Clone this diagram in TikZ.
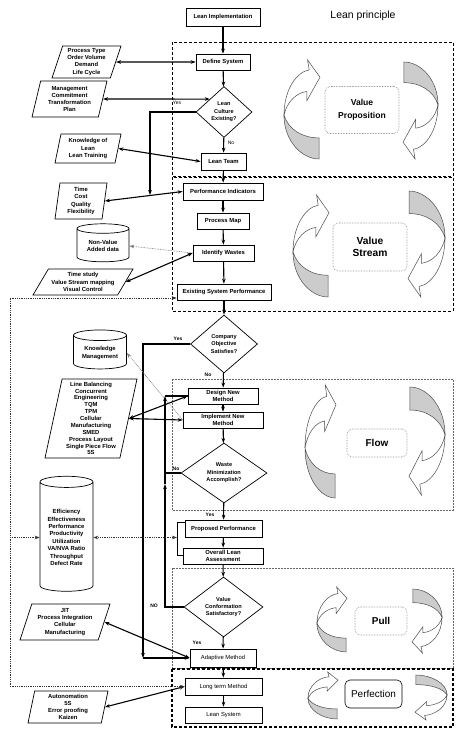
\documentclass[tikz,border=0pt]{standalone}
\usepackage{fontspec}
\setmainfont{Liberation Sans}
\usetikzlibrary{shapes.geometric, arrows.meta}
\tikzset{>={Stealth[length=5bp,width=3.6bp]}}
\newcommand{\boxfont}{\fontsize{5.9}{7.2}\selectfont\bfseries}
\tikzset{
    stepbox/.style={draw, fill=white, line width=0.7bp, inner sep=1bp, align=center, font=\boxfont},
    plainbox/.style={stepbox, font=\fontsize{5.9}{7.2}\selectfont},
    decision/.style={diamond, draw, fill=white, line width=0.7bp, inner sep=0pt, align=center, font=\fontsize{5.6}{7.4}\selectfont\bfseries},
    inputbox/.style 2 args={trapezium, trapezium left angle=#1, trapezium right angle=#2, trapezium stretches body, draw, fill=white, line width=0.7bp, inner sep=0.5bp, align=center, font=\boxfont},
    dbase/.style={cylinder, shape border rotate=90, aspect=0.28, draw, fill=white, line width=0.7bp, inner sep=1bp, align=center, font=\boxfont},
    tag/.style={draw=gray, densely dotted, line width=0.6bp, rounded corners=5bp, align=center, font=\fontsize{10}{12}\selectfont\bfseries},
    lbl/.style={font=\fontsize{5}{6}\selectfont\bfseries, inner sep=0pt},
    link/.style={line width=1.1bp},
    greydot/.style={gray, line width=0.6bp, dash pattern=on 0.8bp off 0.8bp},
    dotline/.style={black!80, line width=0.7bp, dash pattern=on 0.8bp off 1bp},
    zone/.style={line width=0.8bp, dash pattern=on 3bp off 2bp},
    zonegrey/.style={gray!80!black, line width=0.7bp, dash pattern=on 1.6bp off 1.4bp},
    zonethick/.style={line width=1.3bp, dash pattern=on 3bp off 2bp},
    swirlline/.style={black!70, line width=0.5bp},
    swirl/.pic={
        \draw[swirlline, fill=white] (0.70,0.10) -- (0.655,0) -- (1,0.174) -- (0.636,0.41) -- (0.636,0.318)
            .. controls (0.35,0.33) and (0.08,0.42) .. (0,0.557)
            .. controls (0,0.30) and (0.35,0.12) .. (0.70,0.10) -- cycle;
        \draw[swirlline, fill=gray!40] (0,0.557) .. controls (0,0.82) and (0.5,1) .. (0.973,1)
            -- (0.973,0.787) .. controls (0.5,0.787) and (0.12,0.70) .. (0,0.557) -- cycle;
    }
}

\begin{document}
\begin{tikzpicture}[x=1bp, y=-1bp]
    \useasboundingbox (0,0) rectangle (474,733);

    % lean principle zones
    \draw[zone] (172,42) rectangle (453,176);
    \draw[zone] (172,177) rectangle (453,311);
    \draw[zonegrey] (172,379) rectangle (453,510);
    \draw[zonegrey] (172,568) rectangle (453,668);
    \draw[zonethick] (172,669) rectangle (453,727);

    % cycle arrows
    \pic[xscale=36, yscale=99] at (284,60) {swirl};
    \pic[xscale=-35, yscale=-97] at (438,159) {swirl};
    \pic[xscale=36, yscale=102] at (293,195) {swirl};
    \pic[xscale=-37, yscale=-106] at (445,297) {swirl};
    \pic[xscale=31, yscale=113] at (305,385) {swirl};
    \pic[xscale=-36, yscale=-108] at (445,495) {swirl};
    \pic[xscale=30, yscale=65] at (317,587) {swirl};
    \pic[xscale=-30, yscale=-64] at (442,653) {swirl};
    \pic[xscale=30, yscale=47] at (308,672) {swirl};
    \pic[xscale=-32, yscale=-45] at (447,720) {swirl};

    \node[tag, minimum width=74bp, minimum height=47bp, font=\fontsize{8.6}{12.5}\selectfont\bfseries] (vprop) at (362,110) {Value\\Proposition};
    \node[tag, minimum width=74bp, minimum height=48bp, font=\fontsize{10.3}{12.3}\selectfont\bfseries] (vstream) at (370,247) {Value\\Stream};
    \node[tag, minimum width=60bp, minimum height=28bp] (flow) at (377,443) {Flow};
    \node[tag, minimum width=52bp, minimum height=28bp] (pull) at (381,621) {Pull};
    \node[tag, draw=black, solid, minimum width=57bp, minimum height=28bp, font=\fontsize{10}{12}\selectfont] (perf) at (373.5,694) {Perfection};

    \node[font=\fontsize{10.5}{12}\selectfont] (lprin) at (363,16) {Lean principle};

    % main flow
    \node[stepbox, minimum width=74bp, minimum height=18bp] (limp) at (223,17) {Lean Implementation};
    \node[stepbox, minimum width=54bp, minimum height=16bp] (def) at (223,62) {Define System};
    \node[decision, minimum width=56bp, minimum height=51bp] (cult) at (224,112) {Lean\\Culture\\Existing?};
    \node[stepbox, minimum width=45bp, minimum height=17bp] (team) at (223.5,161.5) {Lean Team};
    \node[stepbox, minimum width=80bp, minimum height=17bp] (pind) at (223,191.5) {Performance Indicators};
    \node[stepbox, minimum width=52bp, minimum height=16bp] (pmap) at (223,221) {Process Map};
    \node[stepbox, minimum width=61bp, minimum height=16bp] (iwas) at (223.5,253) {Identify Wastes};
    \node[stepbox, minimum width=94bp, minimum height=16bp] (esp) at (224,292) {Existing System Performance};
    \node[decision, minimum width=67bp, minimum height=58bp] (cobj) at (224,344) {Company\\Objective\\Satisfies?};
    \node[stepbox, minimum width=70bp, minimum height=16bp] (dnm) at (223,396) {Design New\\Method};
    \node[stepbox, minimum width=80bp, minimum height=16bp] (inm) at (223,420) {Implement New\\Method};
    \node[decision, minimum width=86bp, minimum height=60bp] (wmin) at (224,473) {Waste\\Minimization\\Accomplish?};
    \node[stepbox, minimum width=77bp, minimum height=17bp] (ppf) at (223.5,528.5) {Proposed Performance};
    \node[stepbox, minimum width=80bp, minimum height=16bp] (ola) at (223,556) {Overall Lean\\Assessment};
    \node[decision, minimum width=79bp, minimum height=60bp] (vcon) at (223.5,607) {Value\\Conformation\\Satisfactory?};
    \node[plainbox, minimum width=66bp, minimum height=18bp] (adm) at (223,658) {Adaptive Method};
    \node[plainbox, minimum width=77bp, minimum height=17bp] (ltm) at (223.5,686.5) {Long term Method};
    \node[plainbox, minimum width=77bp, minimum height=16bp] (lsys) at (223.5,715) {Lean System};

    % inputs
    \node[inputbox={69}{111}, minimum width=69bp, minimum height=32bp] (ptype) at (86.5,62) {Process Type\\Order Volume\\Demand\\Life Cycle};
    \node[inputbox={72}{108}, minimum width=75bp, minimum height=36bp] (mgmt) at (69.5,99) {Management\\Commitment\\Transformation\\Plan};
    \node[inputbox={74}{106}, minimum width=66bp, minimum height=29bp] (know) at (88,148.5) {Knowledge of\\Lean\\Lean Training};
    \node[inputbox={80}{100}, minimum width=52bp, minimum height=36bp] (tcqf) at (81,201) {Time\\Cost\\Quality\\Flexibility};
    \node[inputbox={52}{128}, minimum width=100bp, minimum height=26bp] (tsvs) at (83,282) {Time study\\Value Stream mapping\\Visual Control};
    \node[inputbox={77}{103}, minimum width=92bp, minimum height=79bp, font=\fontsize{5.9}{6.9}\selectfont\bfseries] (tools) at (91,418.5) {Line Balancing\\Concurrent\\Engineering\\TQM\\TPM\\Cellular\\Manufacturing\\SMED\\Process Layout\\Single Piece Flow\\5S};
    \node[inputbox={67}{113}, minimum width=90bp, minimum height=36bp] (jit) at (65,622) {JIT\\Process Integration\\Cellular\\Manufacturing};
    \node[inputbox={76}{104}, minimum width=80bp, minimum height=32bp] (auto) at (68,707) {Autonomation\\5S\\Error proofing\\Kaizen};

    \node[dbase, minimum width=52bp, minimum height=38bp] (nva) at (103,246) {Non-Value\\Added data};
    \node[dbase, minimum width=53bp, minimum height=39bp] (km) at (100,353) {Knowledge\\Management};
    \node[dbase, minimum width=53bp, minimum height=115bp, font=\fontsize{5.9}{7.4}\selectfont\bfseries] (eff) at (66.5,537.5) {Efficiency\\Effectiveness\\Performance\\Productivity\\Utilization\\VA/NVA Ratio\\Throughput\\Defect Rate};

    % helper points
    \coordinate (yesend) at (150,195);
    \coordinate (yescorner) at (143,658);
    \coordinate (nojoin) at (165,473);
    \coordinate (nomid) at (165,484);
    \coordinate (notop) at (165,396);
    \coordinate (brtop) at (177,522);
    \coordinate (brbot) at (177,555);
    \coordinate (brk) at (177,539);
    \coordinate (loopt) at (10,298);

    % connectors
    \draw[link,->] (limp) -- (def);
    \draw[link,<->] (ptype.east) -- (def.west);
    \draw[link,->] (def) -- (cult);
    \draw[link,<->] (mgmt.east) -- (cult.north west);
    \draw[link,->] (cult.west) -| (yesend);
    \draw[link,->] (cult) -- (team);
    \draw[link,<->] (know.east) -- (team.west);
    \draw[link,->] (team) -- (pind);
    \draw[link,<->] (tcqf.east) -- (pind.west);
    \draw[link,->] (pind) -- (pmap);
    \draw[link,->] (pmap) -- (iwas);
    \draw[link,->] (iwas) -- (esp);
    \draw[greydot,->] (iwas.west) -- (nva.east);
    \draw[link,<->] (tsvs.east) -- (iwas.west);
    \draw[link,->] (esp) -- (cobj);
    \draw[link,->] (cobj.west) -| (yescorner);
    \draw[link,->] (yescorner) -- (adm.west);
    \draw[link,->] (cobj) -- (dnm);
    \draw[link,->] (dnm) -- (inm);
    \draw[link,->] (inm) -- (wmin);
    \draw[link,<->] (tools.east) -- (dnm.west);
    \draw[link,<->] (tools.east) -- (inm.west);
    \draw[greydot,->] (inm.west) -- (km.east);
    \draw[link] (wmin.west) -- (nojoin);
    \draw[link,->] (wmin) -- (ppf);
    \draw[link,->] (ppf) -- (ola);
    \draw[link,->] (ola) -- (vcon);
    \draw[link,->] (vcon.west) -| (nomid);
    \draw[link,->] (nomid) -- (notop);
    \draw[link] (notop) -- (dnm.west);
    \draw[link,->] (vcon) -- (adm);
    \draw[link,<->] (jit.east) -- (adm.west);
    \draw[link,->] (adm) -- (ltm);
    \draw[link,->] (ltm) -- (lsys);
    \draw[link,<->] (auto.east) -- (ltm.west);
    \draw[line width=0.7bp] (ppf.west |- brtop) -- (brtop) -- (brbot) -- (ola.west |- brbot);
    \draw[dotline,<->] (ltm.west) -| (loopt) -- (esp.west |- loopt);
    \draw[dotline,->] (eff.west -| loopt) -- (eff.west);
    \draw[dotline,<->] (eff.east) -- (eff.east -| brk);

    % branch labels
    \node[lbl, font=\fontsize{5}{6}\selectfont] (yes1) at (177,103) {Yes};
    \node[lbl, font=\fontsize{5}{6}\selectfont] (no1) at (231,143) {No};
    \node[lbl] (yes2) at (178,339) {Yes};
    \node[lbl] (no2) at (208,375) {No};
    \node[lbl] (no3) at (176,469) {No};
    \node[lbl] (yes3) at (210,515) {Yes};
    \node[lbl] (no4) at (154,606) {NO};
    \node[lbl] (yes4) at (197,643) {Yes};
\end{tikzpicture}
\end{document}
